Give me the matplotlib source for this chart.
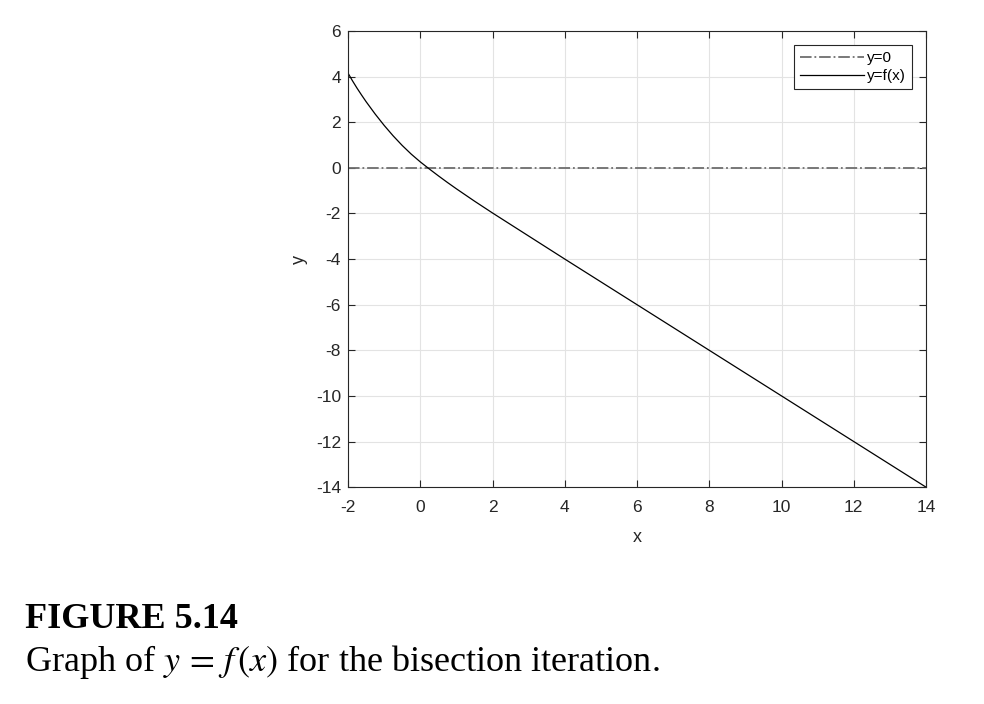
import numpy as np
import matplotlib
matplotlib.use("Agg")
import matplotlib.pyplot as plt

# values
x_vals = [-2.0, -1.875, -1.75, -1.625, -1.5, -1.25, -1.0, -0.75, -0.5, -0.25, 0.0,
          0.25, 0.5, 0.75, 1.0, 1.5, 2.0, 3.0, 4.0, 6.0, 8.0, 10.0, 12.0, 14.0]
y_vals = [4.15, 3.81, 3.49, 3.19, 2.9, 2.36, 1.86, 1.4, 0.98, 0.6, 0.26,
          -0.05, -0.35, -0.64, -0.92, -1.46, -1.98, -2.99, -4.0, -6.0, -8.0, -10.0, -12.0, -14.0]
zero_x = [-2, 14]
zero_y = [0, 0]
x_ticks = list(range(-2, 15, 2))
y_ticks = list(range(-14, 7, 2))

plt.rcParams["font.family"] = ["Liberation Sans", "DejaVu Sans"]
plt.rcParams["mathtext.fontset"] = "stix"
plt.rcParams["axes.unicode_minus"] = False

fig = plt.figure(figsize=(9.84, 7.04), dpi=100)
ax = fig.add_axes([0.3537, 0.308, 0.5874, 0.648])

ax.plot(zero_x, zero_y, color="#6e6e6e", ls="-.", lw=1.3, label="y=0")
ax.plot(x_vals, y_vals, color="black", lw=0.9, label="y=f(x)")

ax.set_xlim(-2, 14)
ax.set_ylim(-14, 6)
ax.set_xticks(x_ticks)
ax.set_yticks(y_ticks)
ax.grid(True, color="#e3e3e3", lw=0.8)
ax.set_axisbelow(True)
ax.tick_params(direction="in", top=True, right=True, labelsize=12.5,
               colors="#262626", length=5, width=0.8, pad=5)
ax.tick_params(axis="x", pad=9)
for s in ax.spines.values():
    s.set_color("#262626")
    s.set_linewidth(0.8)

ax.set_xlabel("x", fontsize=13, color="#262626", labelpad=10)
ax.set_ylabel("y", fontsize=13, color="#262626", labelpad=6)

leg = ax.legend(loc="upper right", bbox_to_anchor=(0.9758, 0.969),
                borderaxespad=0, fontsize=11, handlelength=4.2,
                handletextpad=0.2, borderpad=0.4, labelspacing=0.25,
                fancybox=False, framealpha=1)
leg.get_frame().set_edgecolor("#262626")
leg.get_frame().set_linewidth(0.8)

fig.text(0.025, 0.108, "FIGURE 5.14", family=["Liberation Serif"],
         fontweight="bold", fontsize=26)
fig.text(0.025, 0.047, r"Graph of $y\,=\,f\,(x)$ for the bisection iteration.",
         family=["Liberation Serif"], fontsize=26)

fig.savefig("out.png", dpi=100)
